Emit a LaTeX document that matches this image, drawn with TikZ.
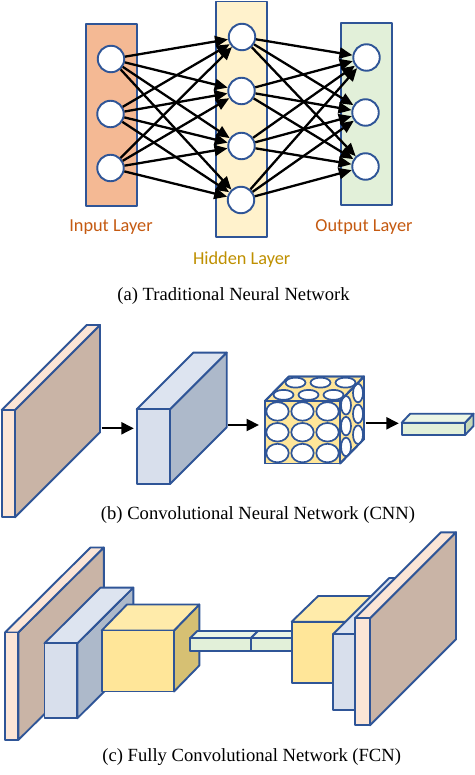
\documentclass[tikz,border=0pt]{standalone}
\usepackage{fontspec}
\setmainfont{Liberation Serif}
\newfontfamily\labelfont{Carlito}
\usetikzlibrary{arrows.meta}
\definecolor{edgeblue}{RGB}{47,85,151}
\definecolor{inputfill}{RGB}{244,185,148}
\definecolor{hidfill}{RGB}{255,242,204}
\definecolor{outfill}{RGB}{226,240,217}
\definecolor{slabfront}{RGB}{251,229,214}
\definecolor{slabside}{RGB}{201,180,166}
\definecolor{boxfront}{RGB}{216,223,236}
\definecolor{boxtop}{RGB}{221,228,240}
\definecolor{boxside}{RGB}{173,185,202}
\definecolor{cubefront}{RGB}{255,230,153}
\definecolor{cubetop}{RGB}{255,235,170}
\definecolor{cubeside}{RGB}{214,192,115}
\definecolor{barfront}{RGB}{226,240,217}
\definecolor{bartop}{RGB}{236,246,230}
\definecolor{barside}{RGB}{197,217,184}
\definecolor{inputtxt}{RGB}{197,90,17}
\definecolor{hidtxt}{RGB}{191,144,0}
% #1,#2 top-left of front face; #3,#4 width,height; #5,#6 depth; #7 front, #8 top, #9 side colour
\newcommand{\mycuboid}[9]{%
  \filldraw[edge,fill=#9] ({#1+#3},{#2}) -- ({#1+#3+#5},{#2+#6}) -- ({#1+#3+#5},{#2+#4+#6}) -- ({#1+#3},{#2+#4}) -- cycle;
  \filldraw[edge,fill=#8] ({#1},{#2}) -- ({#1+#5},{#2+#6}) -- ({#1+#3+#5},{#2+#6}) -- ({#1+#3},{#2}) -- cycle;
  \filldraw[edge,fill=#7] ({#1},{#2}) rectangle ({#1+#3},{#2+#4});
}
\begin{document}
\begin{tikzpicture}[x=1pt,y=-1pt,
  edge/.style={draw=edgeblue,line width=1.9pt,line join=round},
  layerbox/.style={edge,rectangle,inner sep=0pt},
  neuron/.style={circle,draw=edgeblue,line width=1.9pt,fill=white,minimum size=26.5pt,inner sep=0pt},
  conn/.style={black,line width=2.3pt,-{Triangle[length=13pt,width=11pt]}},
  flow/.style={black,line width=2.3pt,-{Triangle[length=12.5pt,width=12pt]}},
  lbl/.style={font=\labelfont\fontsize{18.3}{21}\selectfont},
  captext/.style={font=\fontsize{18.6}{22}\selectfont},
  cell/.style={draw=edgeblue,line width=1.7pt,fill=white}]
\useasboundingbox (0,0) rectangle (474,775);
\fill[white] (0,0) rectangle (474,775);

% ---------- (a) ----------
\node[layerbox,fill=inputfill,minimum width=51pt,minimum height=181.7pt] (inL) at (111.5,115.2) {};
\node[layerbox,fill=hidfill,minimum width=51pt,minimum height=235.5pt] (hidL) at (241.5,119.25) {};
\node[layerbox,fill=outfill,minimum width=51pt,minimum height=182.3pt] (outL) at (366.5,113.9) {};

\node[neuron] (i1) at (111,59) {};
\node[neuron] (i2) at (110.5,114) {};
\node[neuron] (i3) at (110.5,168) {};
\node[neuron] (h1) at (242,37) {};
\node[neuron] (h2) at (241.5,91) {};
\node[neuron] (h3) at (241.5,146) {};
\node[neuron] (h4) at (241,200) {};
\node[neuron] (o1) at (366.5,57.5) {};
\node[neuron] (o2) at (365.5,112.5) {};
\node[neuron] (o3) at (365.5,166.5) {};

\foreach \a in {i1,i2,i3}
  \foreach \b in {h1,h2,h3,h4}
    \draw[conn] (\a) -- (\b);
\foreach \a in {h1,h2,h3,h4}
  \foreach \b in {o1,o2,o3}
    \draw[conn] (\a) -- (\b);

\node[lbl,text=inputtxt] (tin) at (111,227) {Input Layer};
\node[lbl,text=inputtxt] (tout) at (364,227) {Output Layer};
\node[lbl,text=hidtxt] (thid) at (241.7,260) {Hidden Layer};
\node[captext] (capa) at (233.5,296) {(a) Traditional Neural Network};

% ---------- (b) ----------
\mycuboid{1.7}{410}{13.3}{107.3}{85}{-85}{slabfront}{slabfront}{slabside}
\mycuboid{136.7}{409.3}{33.3}{74.7}{56.7}{-56.7}{boxfront}{boxtop}{boxside}
% cube with cells
\mycuboid{265}{401}{75}{62.5}{24}{-24.5}{cubefront}{cubefront}{cubefront}
\foreach \i in {0,1,2}
  \foreach \r in {0,1,2}
    \draw[cell] ({265+25*(\i+0.5)},{401+20.83*(\r+0.5)}) ellipse [x radius=11.2pt, y radius=9.3pt];
\foreach \i in {0,1,2}
  \foreach \j in {0,1}
    \draw[cell] ({265+25*(\i+0.5)+12*(\j+0.5)},{401-12.25*(\j+0.5)}) ellipse [x radius=10pt, y radius=5pt];
\foreach \k in {0,1}
  \foreach \r in {0,1,2}
    \draw[cell] ({340+12*(\k+0.5)},{401+20.83*(\r+0.5)-12.25*(\k+0.5)}) ellipse [x radius=5pt, y radius=9.3pt];
\draw[edge] (265,401) rectangle (340,463.5);
\draw[edge] (265,401) -- (289,376.5) -- (364,376.5) -- (340,401);
\draw[edge] (364,376.5) -- (364,439) -- (340,463.5);
% bar
\mycuboid{401.7}{422.7}{63.3}{12.3}{8.5}{-9}{barfront}{bartop}{barside}

\coordinate (a1s) at (101.5,428.3);
\coordinate (a1e) at (133.8,428.3);
\coordinate (a2s) at (227.5,425);
\coordinate (a2e) at (259,425);
\coordinate (a3s) at (365.5,423.3);
\coordinate (a3e) at (398.8,423.3);
\draw[flow] (a1s) -- (a1e);
\draw[flow] (a2s) -- (a2e);
\draw[flow] (a3s) -- (a3e);

\node[captext] (capb) at (258,515.5) {(b) Convolutional Neural Network (CNN)};

% ---------- (c) ----------
\mycuboid{5}{632.5}{13.3}{107.5}{85.5}{-85}{slabfront}{slabfront}{slabside}
\mycuboid{44.5}{643.3}{32.8}{75}{56}{-55.7}{boxfront}{boxtop}{boxside}
\mycuboid{101.7}{630.5}{72.3}{61}{25.3}{-26}{cubefront}{cubetop}{cubeside}
\mycuboid{190}{638.3}{60.7}{12.5}{7.3}{-7.3}{barfront}{bartop}{barside}
\mycuboid{250.7}{638.3}{50}{12.5}{7.3}{-7.3}{barfront}{bartop}{barside}
\mycuboid{291.7}{621.7}{72}{61.5}{26.5}{-25.7}{cubefront}{cubetop}{cubeside}
\mycuboid{333.3}{634}{33}{76}{56}{-56}{boxfront}{boxtop}{boxside}
\mycuboid{355}{618.3}{15}{107}{86}{-86}{slabfront}{slabfront}{slabside}

\node[captext] (capc) at (251.7,757.5) {(c) Fully Convolutional Network (FCN)};
\end{tikzpicture}
\end{document}
